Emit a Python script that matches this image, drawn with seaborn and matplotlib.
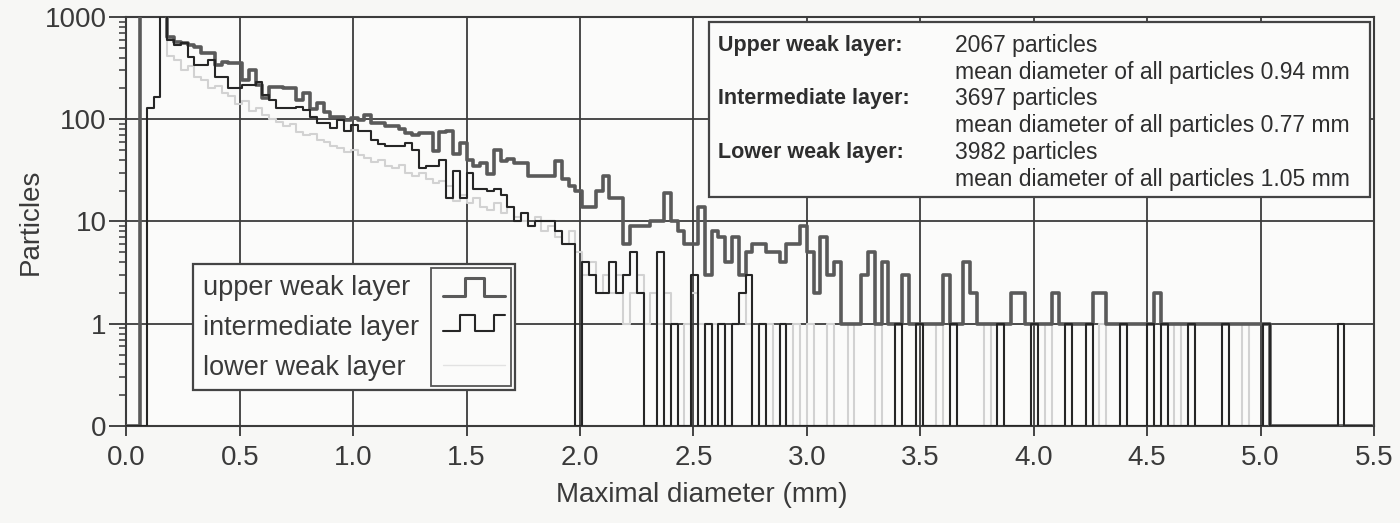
import numpy as np
import pandas as pd
import matplotlib
matplotlib.use("Agg")
import matplotlib.pyplot as plt
import seaborn as sns
from matplotlib.lines import Line2D
from matplotlib.patches import Rectangle
from matplotlib.legend_handler import HandlerBase
from matplotlib.ticker import FixedLocator, LogLocator, NullFormatter
from matplotlib.transforms import Affine2D

# ---------------- data (counts per 0.03 mm diameter class) ----------------
bin_width = 0.03
upper_weak = [
    0, 0, 1500, 1500, 1500, 1500, 640, 570, 560, 530,
    510, 445, 445, 340, 365, 355, 355, 240, 300, 215,
    163, 207, 207, 200, 200, 155, 180, 125, 145, 118,
    106, 106, 99, 103, 99, 111, 92, 92, 85, 85,
    80, 73, 70, 73, 73, 49, 75, 77, 46, 59,
    40, 35, 37, 29, 50, 39, 41, 37, 37, 28,
    28, 28, 28, 39, 26, 22, 20, 14, 14, 20,
    28, 17, 17, 6, 9, 9, 9, 10, 10, 19,
    10, 8, 6, 6, 14, 3, 8, 7, 4, 7,
    3, 5, 6, 6, 5, 5, 4, 6, 6, 9,
    5, 2, 7, 3, 4, 1, 1, 1, 3, 5,
    1, 4, 1, 1, 3, 1, 1, 1, 1, 1,
    3, 1, 1, 4, 2, 1, 1, 1, 1, 1,
    2, 2, 1, 1, 1, 1, 2, 1, 1, 1,
    1, 1, 2, 2, 1, 1, 1, 1, 1, 1,
    1, 2, 1, 1, 1, 1, 1, 1, 1, 1,
    1, 1, 1, 1, 1, 1, 1, 1, 0, 0,
    0, 0, 0, 0, 0, 0, 0, 0, 0, 0,
    0, 0, 0,
]
intermediate = [
    0, 0, 0, 130, 165, 1500, 595, 530, 555, 407,
    340, 340, 380, 260, 260, 203, 203, 215, 215, 232,
    174, 155, 130, 130, 130, 132, 124, 106, 92, 92,
    82, 99, 76, 88, 76, 76, 63, 57, 55, 55,
    55, 59, 50, 33, 35, 35, 40, 17, 31, 17,
    30, 21, 21, 20, 21, 18, 14, 10, 12, 9,
    10, 10, 10, 8, 6, 6, 0, 4, 3, 2,
    2, 4, 2, 3, 5, 2, 0, 0, 5, 0,
    1, 0, 0, 3, 0, 1, 0, 1, 0, 1,
    2, 3, 0, 1, 0, 0, 1, 0, 0, 0,
    0, 0, 0, 0, 0, 0, 0, 0, 0, 0,
    0, 0, 0, 1, 0, 0, 1, 0, 0, 0,
    0, 1, 0, 0, 0, 0, 0, 0, 1, 0,
    0, 0, 0, 1, 0, 0, 0, 0, 1, 0,
    0, 1, 0, 0, 0, 0, 1, 0, 0, 0,
    1, 0, 1, 0, 0, 0, 1, 0, 0, 0,
    0, 1, 0, 0, 0, 0, 0, 1, 0, 0,
    0, 0, 0, 0, 0, 0, 0, 0, 1, 0,
    0, 0, 0,
]
lower_weak = [
    0, 0, 1500, 1500, 1500, 1500, 420, 380, 300, 330,
    260, 240, 200, 210, 180, 170, 140, 150, 120, 130,
    110, 100, 95, 85, 90, 75, 70, 72, 62, 60,
    55, 52, 48, 50, 45, 42, 38, 40, 35, 33,
    36, 30, 28, 30, 26, 24, 25, 22, 16, 18,
    15, 17, 14, 13, 15, 12, 14, 11, 10, 9,
    11, 8, 9, 7, 6, 8, 5, 3, 4, 2,
    3, 2, 3, 1, 2, 3, 1, 2, 1, 2,
    1, 0, 1, 2, 1, 0, 1, 1, 0, 1,
    2, 1, 0, 1, 1, 0, 1, 0, 1, 0,
    1, 0, 0, 1, 0, 0, 1, 0, 0, 0,
    1, 0, 0, 0, 0, 0, 0, 0, 0, 1,
    0, 0, 0, 0, 0, 0, 1, 0, 0, 0,
    0, 0, 0, 0, 0, 1, 0, 0, 0, 0,
    0, 0, 0, 1, 0, 0, 0, 0, 0, 0,
    0, 0, 0, 0, 1, 0, 0, 0, 0, 0,
    0, 0, 0, 0, 1, 0, 0, 0, 0, 0,
    0, 0, 0, 0, 0, 0, 0, 0, 0, 0,
    0, 0, 0,
]
legend_labels = ["upper weak layer", "intermediate layer", "lower weak layer"]
info_labels = ["Upper weak layer:", "Intermediate layer:", "Lower weak layer:"]
info_particles = [2067, 3697, 3982]
info_mean_mm = [0.94, 0.77, 1.05]
x_ticks = [0.0, 0.5, 1.0, 1.5, 2.0, 2.5, 3.0, 3.5, 4.0, 4.5, 5.0, 5.5]
y_ticks = [0.1, 1, 10, 100, 1000]          # 0.1 is the "0" baseline of the log axis
y_tick_labels = ["0", "1", "10", "100", "1000"]
zero_level = 0.1

# ---------------- style ----------------
sns.set_theme(style="white")
plt.rcParams["font.family"] = ["Liberation Sans", "DejaVu Sans"]
INK = "#3a3a3a"
BG = "#f7f7f5"

n_bins = len(upper_weak)
edges = np.arange(n_bins + 1) * bin_width


def step_frame(counts, name):
    c = np.asarray(counts, dtype=float)
    vals = np.where(c > 0, c, zero_level)
    return pd.DataFrame({"x": edges, "y": np.append(vals, vals[-1]), "layer": name})


df_u = step_frame(upper_weak, legend_labels[0])
df_i = step_frame(intermediate, legend_labels[1])
df_l = step_frame(lower_weak, legend_labels[2])

fig = plt.figure(figsize=(14, 5.23), dpi=100, facecolor=BG)
ax = fig.add_axes([0.0902, 0.1855, 0.8912, 0.782])
ax.set_facecolor("#fbfbfa")
ax.set_yscale("log")

styles = {
    legend_labels[0]: dict(color="#5a5a5a", lw=2.6, zorder=3),
    legend_labels[1]: dict(color="#262626", lw=1.5, zorder=4),
    legend_labels[2]: dict(color="#d2d2d2", lw=1.5, zorder=2),
}
for df in (df_l, df_u, df_i):
    name = df["layer"].iloc[0]
    st = styles[name]
    sns.lineplot(data=df, x="x", y="y", ax=ax, estimator=None, sort=False,
                 drawstyle="steps-post", color=st["color"], linewidth=st["lw"],
                 zorder=st["zorder"])

ax.set_xlim(0, 5.5)
ax.set_ylim(0.1, 1000)
ax.xaxis.set_major_locator(FixedLocator(x_ticks))
ax.set_xticklabels([f"{t:.1f}" for t in x_ticks])
ax.yaxis.set_major_locator(FixedLocator(y_ticks))
ax.set_yticklabels(y_tick_labels)
ax.yaxis.set_minor_locator(LogLocator(base=10, subs=np.arange(2, 10) * 1.0, numticks=30))
ax.yaxis.set_minor_formatter(NullFormatter())

ax.set_axisbelow(True)
ax.grid(True, which="major", color="#3c3c3c", linewidth=1.3)
ax.grid(False, which="minor")
for sp in ax.spines.values():
    sp.set_visible(True)
    sp.set_color("#3c3c3c")
    sp.set_linewidth(1.5)

ax.tick_params(axis="x", which="major", bottom=True, length=7, width=1.4,
               color="#444444", pad=7, labelsize=20, labelcolor=INK)
ax.tick_params(axis="y", which="major", left=True, length=12, width=1.4,
               color="#444444", pad=2, labelsize=20, labelcolor=INK)
ax.tick_params(axis="y", which="minor", left=True, length=5, width=1.3,
               color="#555555")

ax.set_xlabel("Maximal diameter (mm)", fontsize=20, color=INK)
ax.set_ylabel("Particles", fontsize=20, color=INK)
ax.xaxis.set_label_coords(0.461, -0.138)
ax.yaxis.set_label_coords(-0.066, 0.5)


# ---------------- legend with step-shaped keys on the right ----------------
class StepHandler(HandlerBase):
    def __init__(self, xs, ys):
        super().__init__()
        self.xs = np.asarray(xs)
        self.ys = np.asarray(ys)

    def create_artists(self, legend, orig_handle, xdescent, ydescent, width,
                       height, fontsize, trans):
        line = Line2D(-xdescent + self.xs * width, -ydescent + self.ys * height,
                      color=orig_handle.get_color(),
                      linewidth=orig_handle.get_linewidth(), transform=trans)
        return [line]


h_u = Line2D([], [], color="#5a5a5a", lw=2.2)
h_i = Line2D([], [], color="#262626", lw=1.5)
h_l = Line2D([], [], color="#e2e2e2", lw=1.0)
hmap = {
    h_u: StepHandler([0, .36, .36, .66, .66, 1], [.1, .1, .85, .85, .1, .1]),
    h_i: StepHandler([0, .28, .28, .52, .52, .82, .82, 1],
                     [.3, .3, .95, .95, .3, .3, .95, .95]),
    h_l: StepHandler([0, 1], [.5, .5]),
}
leg = ax.legend([h_u, h_i, h_l], legend_labels, handler_map=hmap,
                loc="lower left", bbox_to_anchor=(0.0535, 0.088),
                borderaxespad=0, markerfirst=False, frameon=True,
                fancybox=False, fontsize=19.5, handlelength=2.3,
                handleheight=1.0, labelspacing=0.45, borderpad=0.35,
                handletextpad=0.9, labelcolor=INK)
fr = leg.get_frame()
fr.set_edgecolor("#444444")
fr.set_linewidth(1.6)
fr.set_facecolor("#fbfbfa")
fr.set_alpha(1)
leg.set_zorder(6)

# ---------------- info box (top right) ----------------
ax.add_patch(Rectangle((0.467, 0.56), 0.5298, 0.4278, transform=ax.transAxes,
                       facecolor="#fbfbfa", edgecolor="#444444", linewidth=1.6,
                       zorder=7))
row_y = [0.9315, 0.8655, 0.7995, 0.7335, 0.6675, 0.6015]
for k in range(3):
    ax.text(0.4744, row_y[2 * k], info_labels[k], transform=ax.transAxes,
            fontsize=15.5, fontweight="bold", color="#2e2e2e", va="center",
            ha="left", zorder=8)
    ax.text(0.6643, row_y[2 * k], f"{info_particles[k]} particles",
            transform=ax.transAxes, fontsize=16.5, color="#2e2e2e",
            va="center", ha="left", zorder=8)
    ax.text(0.6643, row_y[2 * k + 1],
            f"mean diameter of all particles {info_mean_mm[k]:.2f} mm",
            transform=ax.transAxes, fontsize=16.5, color="#2e2e2e",
            va="center", ha="left", zorder=8)

# left-align legend labels, then frame the key column
fig.canvas.draw()
renderer = fig.canvas.get_renderer()
texts = leg.get_texts()
exts = [t.get_window_extent(renderer) for t in texts]
left_x = min(e.x0 for e in exts)
for t, e in zip(texts, exts):
    dx = e.x0 - left_x
    if dx > 0:
        t.set_transform(t.get_transform() + Affine2D().translate(-dx, 0))

lb = leg.get_window_extent(renderer)
text_right = max(e.x1 for e in exts)
x_sep = text_right + 0.45 * 19.5 * fig.dpi / 72
inv = fig.transFigure.inverted()
(fx0, fy0) = inv.transform((x_sep, lb.y0 + 4))
(fx1, fy1) = inv.transform((lb.x1 - 4, lb.y1 - 4))
fig.add_artist(Rectangle((fx0, fy0), fx1 - fx0, fy1 - fy0,
                         transform=fig.transFigure, fill=False,
                         edgecolor="#555555", linewidth=1.3, zorder=10))

fig.savefig("out.png", dpi=100, facecolor=BG)
